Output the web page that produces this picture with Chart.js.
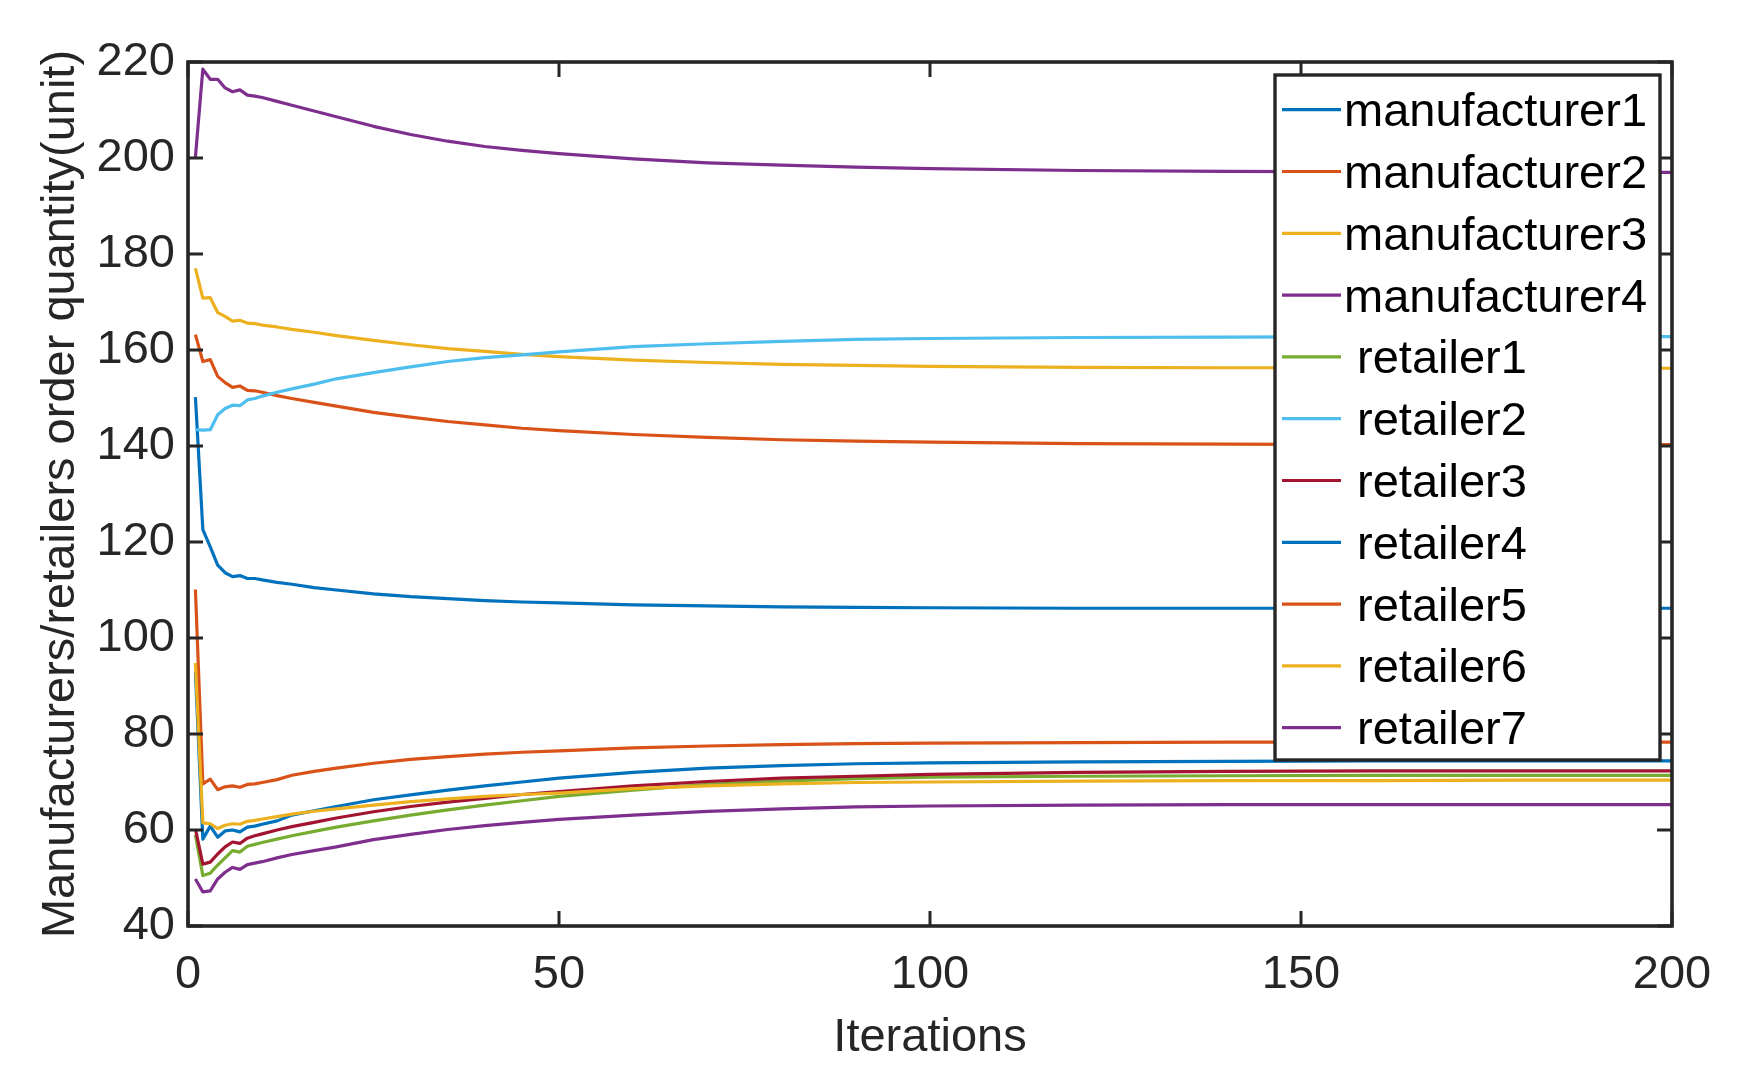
<!DOCTYPE html>
<html><head><meta charset="utf-8">
<script src="https://cdn.jsdelivr.net/npm/chart.js@4.4.0/dist/chart.umd.min.js"></script>
<style>html,body{margin:0;padding:0;background:#fff;overflow:hidden}#wrap{width:1739px;height:1077px;position:relative}</style>
</head><body><div id="wrap"><canvas id="c" width="1739" height="1077"></canvas></div>
<script>
// ---- data ----
const iterations = [1,2,3,4,5,6,7,8,9,10,12,14,17,20,25,30,35,40,45,50,60,70,80,90,100,120,140,160,180,200];

const manufacturer1 = [150.2,122.6,119.0,115.2,113.6,112.8,113.0,112.4,112.4,112.1,111.6,111.2,110.5,110.0,109.2,108.6,108.2,107.8,107.5,107.3,106.9,106.7,106.5,106.4,106.3,106.2,106.2,106.2,106.2,106.2];
const manufacturer2 = [163.2,157.6,158.0,154.5,153.2,152.2,152.5,151.6,151.5,151.2,150.5,149.9,149.1,148.3,147.0,146.0,145.1,144.4,143.7,143.2,142.4,141.8,141.3,141.0,140.8,140.5,140.4,140.3,140.3,140.3];
const manufacturer3 = [177.0,170.8,170.9,167.8,167.0,166.0,166.2,165.6,165.5,165.2,164.8,164.3,163.7,163.0,162.0,161.1,160.3,159.7,159.1,158.6,157.9,157.4,157.0,156.8,156.6,156.4,156.3,156.3,156.2,156.2];
const manufacturer4 = [200.2,218.5,216.4,216.4,214.6,213.8,214.2,213.1,212.9,212.6,211.8,211.0,209.8,208.6,206.6,204.9,203.5,202.4,201.6,200.9,199.8,199.0,198.5,198.1,197.8,197.4,197.2,197.1,197.0,197.0];
const retailer1 = [59.0,50.5,51.0,52.7,54.2,55.7,55.4,56.6,57.0,57.4,58.1,58.8,59.7,60.6,61.9,63.1,64.2,65.2,66.1,67.0,68.3,69.5,70.2,70.7,71.0,71.2,71.3,71.4,71.4,71.4];
const retailer2 = [143.4,143.3,143.4,146.5,147.8,148.5,148.4,149.6,149.9,150.4,151.2,151.9,152.9,154.0,155.3,156.5,157.6,158.4,159.0,159.6,160.7,161.3,161.8,162.2,162.4,162.6,162.7,162.8,162.8,162.8];
const retailer3 = [60.2,52.9,53.3,55.0,56.5,57.5,57.2,58.3,58.8,59.2,60.0,60.7,61.6,62.5,63.8,64.9,65.8,66.6,67.4,68.0,69.2,70.1,70.8,71.2,71.6,72.0,72.2,72.3,72.3,72.3];
const retailer4 = [93.0,58.1,60.8,58.5,59.8,60.0,59.6,60.6,60.8,61.2,61.9,63.1,64.0,64.9,66.3,67.3,68.3,69.2,70.0,70.8,72.0,72.9,73.4,73.8,74.0,74.2,74.3,74.4,74.4,74.4];
const retailer5 = [110.1,69.6,70.6,68.4,69.0,69.2,68.9,69.5,69.6,69.9,70.5,71.4,72.2,72.9,73.9,74.7,75.3,75.8,76.2,76.5,77.1,77.5,77.8,78.0,78.1,78.2,78.3,78.3,78.3,78.3];
const retailer6 = [94.8,61.5,61.3,60.3,61.0,61.3,61.2,61.8,62.0,62.3,62.8,63.3,63.9,64.4,65.2,65.9,66.5,67.0,67.4,67.7,68.6,69.2,69.6,69.9,70.0,70.2,70.3,70.3,70.4,70.4];
const retailer7 = [49.8,47.1,47.3,49.8,51.2,52.2,51.8,52.8,53.1,53.4,54.2,54.9,55.7,56.5,58.0,59.1,60.1,60.9,61.6,62.2,63.1,63.9,64.4,64.8,65.0,65.2,65.3,65.3,65.3,65.3];

const seriesLabels = ['manufacturer1','manufacturer2','manufacturer3','manufacturer4',' retailer1',' retailer2',' retailer3',' retailer4',' retailer5',' retailer6',' retailer7'];
const seriesValues = [manufacturer1,manufacturer2,manufacturer3,manufacturer4,retailer1,retailer2,retailer3,retailer4,retailer5,retailer6,retailer7];
const seriesColors = ['#0072BD','#D95319','#EDB120','#7E2F8E','#77AC30','#4DBEEE','#A2142F','#0072BD','#D95319','#EDB120','#7E2F8E'];

const xTicks = [0,50,100,150,200];
const yTicks = [40,60,80,100,120,140,160,180,200,220];
const xTitle = 'Iterations';
const yTitle = 'Manufacturers/retailers order quantity(unit)';

// ---- styling ----
const FONT = '"Liberation Sans", Arial, Helvetica, sans-serif';
const FS = 47;
const AXIS_COLOR = '#262626';
const LINE_W = 3.2;

const datasets = seriesValues.map((vals, i) => ({
  label: seriesLabels[i],
  data: iterations.map((it, k) => ({x: it, y: vals[k]})),
  borderColor: seriesColors[i],
  backgroundColor: seriesColors[i],
  borderWidth: LINE_W,
  borderJoinStyle: 'round',
  pointRadius: 0,
  showLine: true,
  tension: 0,
  fill: false,
  order: -i
}));

const axesBox = {
  id: 'axesBox',
  afterDatasetsDraw(chart) {
    const {ctx, chartArea: a, scales: {x, y}} = chart;
    ctx.save();
    ctx.strokeStyle = AXIS_COLOR;
    ctx.lineWidth = 3;
    ctx.beginPath();
    xTicks.forEach(v => {
      const px = x.getPixelForValue(v);
      ctx.moveTo(px, a.bottom); ctx.lineTo(px, a.bottom - 15);
      ctx.moveTo(px, a.top); ctx.lineTo(px, a.top + 15);
    });
    yTicks.forEach(v => {
      const py = y.getPixelForValue(v);
      ctx.moveTo(a.left, py); ctx.lineTo(a.left + 15, py);
      ctx.moveTo(a.right, py); ctx.lineTo(a.right - 15, py);
    });
    ctx.stroke();
    ctx.lineWidth = 3.6;
    ctx.strokeRect(a.left, a.top, a.right - a.left, a.bottom - a.top);
    ctx.restore();
  }
};

const boxLegend = {
  id: 'boxLegend',
  afterDraw(chart) {
    const ctx = chart.ctx;
    const L = {left: 1275, top: 75, right: 1660, bottom: 760, row0: 109.7, step: 61.8, l0: 1282, l1: 1341, tx: 1344};
    ctx.save();
    ctx.fillStyle = '#ffffff';
    ctx.fillRect(L.left, L.top, L.right - L.left, L.bottom - L.top);
    ctx.strokeStyle = AXIS_COLOR;
    ctx.lineWidth = 3.4;
    ctx.strokeRect(L.left, L.top, L.right - L.left, L.bottom - L.top);
    chart.data.datasets.forEach((ds, i) => {
      const yy = L.row0 + i * L.step;
      ctx.strokeStyle = ds.borderColor;
      ctx.lineWidth = LINE_W;
      ctx.beginPath(); ctx.moveTo(L.l0, yy); ctx.lineTo(L.l1, yy); ctx.stroke();
      ctx.fillStyle = '#000000';
      ctx.font = FS + 'px ' + FONT;
      ctx.textBaseline = 'middle';
      ctx.textAlign = 'left';
      ctx.fillText(ds.label, L.tx, yy + 3.5);
    });
    ctx.restore();
  }
};

new Chart(document.getElementById('c'), {
  type: 'scatter',
  data: {datasets},
  plugins: [axesBox, boxLegend],
  options: {
    responsive: false,
    animation: false,
    devicePixelRatio: 1,
    layout: {padding: {left: 0, right: 67, top: 62, bottom: 0}},
    plugins: {legend: {display: false}, tooltip: {enabled: false}},
    scales: {
      x: {
        type: 'linear', min: 0, max: 200,
        afterBuildTicks: s => { s.ticks = xTicks.map(v => ({value: v})); },
        afterFit: s => { s.height = 151; },
        ticks: {font: {family: FONT, size: FS}, color: AXIS_COLOR, padding: 21, maxRotation: 0, autoSkip: false},
        grid: {display: false, drawTicks: false},
        border: {display: false},
        title: {display: true, text: xTitle, font: {family: FONT, size: FS}, color: AXIS_COLOR, padding: {top: 0, bottom: 11}}
      },
      y: {
        type: 'linear', min: 40, max: 220,
        afterBuildTicks: s => { s.ticks = yTicks.map(v => ({value: v})); },
        afterFit: s => { s.width = 188; },
        ticks: {font: {family: FONT, size: FS}, color: AXIS_COLOR, padding: 13, autoSkip: false},
        grid: {display: false, drawTicks: false},
        border: {display: false},
        title: {display: true, text: yTitle, font: {family: FONT, size: FS}, color: AXIS_COLOR, padding: {top: 33, bottom: 0}}
      }
    }
  }
});
</script></body></html>
